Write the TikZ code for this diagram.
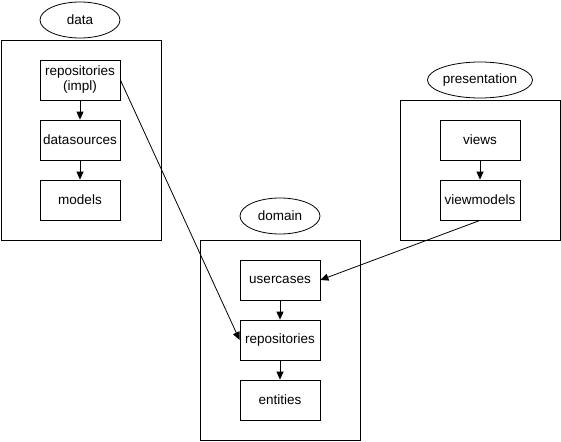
\documentclass[tikz,border=0pt]{standalone}
\usepackage{fontspec}
\setmainfont{Liberation Sans}
\usetikzlibrary{shapes.geometric, arrows.meta, positioning}

\tikzset{
  layerbox/.style={draw, line width=0.8pt, minimum width=160pt, minimum height=200pt, inner sep=0pt},
  layertag/.style={draw, ellipse, line width=0.8pt, minimum width=80pt, minimum height=36pt, inner sep=0pt, font=\fontsize{13.5}{15}\selectfont},
  part/.style={draw, line width=0.8pt, minimum width=80pt, minimum height=40pt, inner sep=1pt, align=center, font=\fontsize{13.5}{15}\selectfont},
  link/.style={-{Triangle[length=8pt,width=7pt]}, line width=0.8pt}
}

\begin{document}
\begin{tikzpicture}[x=1pt, y=-1pt]
  \useasboundingbox (0,0) rectangle (561,441);

  % data layer
  \node[layerbox] (databox) at (81, 140) {};
  \node[layertag] (datatag) at (80, 20) {data};
  \node[part] (repoimpl) at (80, 80) {repositories\\(impl)};
  \node[part] (datasrc) at (80, 140) {datasources};
  \node[part] (models) at (80, 200) {models};
  \draw[link] (repoimpl) -- (datasrc);
  \draw[link] (datasrc) -- (models);

  % presentation layer
  \node[layerbox, minimum height=140pt] (presbox) at (480, 170) {};
  \node[layertag] (prestag) at (480, 80) {presentation};
  \node[part] (views) at (480, 140) {views};
  \node[part] (viewmodels) at (480, 200) {viewmodels};
  \draw[link] (views) -- (viewmodels);

  % domain layer
  \node[layerbox] (dombox) at (280, 340) {};
  \node[layertag] (domtag) at (280, 216) {domain};
  \node[part] (usecases) at (280, 280) {usercases};
  \node[part] (domrepos) at (280, 340) {repositories};
  \node[part] (entities) at (280, 400) {entities};
  \draw[link] (usecases) -- (domrepos);
  \draw[link] (domrepos) -- (entities);

  % between layers
  \draw[link] (repoimpl.east) -- (domrepos.west);
  \draw[link] (viewmodels.south) -- (usecases.east);
\end{tikzpicture}
\end{document}
